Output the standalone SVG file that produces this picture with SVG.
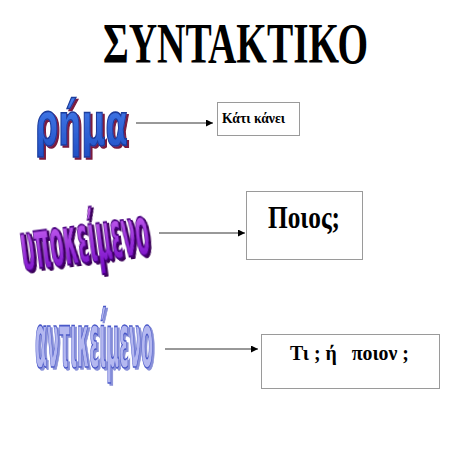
<svg xmlns="http://www.w3.org/2000/svg" width="452" height="452" viewBox="0 0 452 452">
<style>
.box{fill:#fff;stroke:#9a9a9a;stroke-width:1}
.lbl{font-family:"Liberation Serif","Times New Roman",serif;font-weight:bold;fill:#000}
.art{font-family:"DejaVu Sans Condensed","DejaVu Sans","Liberation Sans",sans-serif;font-weight:bold}
.conn{stroke:#333;stroke-width:1;fill:none;marker-end:url(#ah)}
</style>
<defs>
<marker id="ah" viewBox="0 0 8 8" refX="8" refY="4" markerWidth="7" markerHeight="7" markerUnits="userSpaceOnUse" orient="auto">
<path d="M0,0 L8,4 L0,8 z" fill="#000"/>
</marker>
<linearGradient id="gBlue" x1="0" y1="0" x2="0" y2="1">
<stop offset="0" stop-color="#4a82f0"/>
<stop offset="1" stop-color="#1f4ec4"/>
</linearGradient>
<linearGradient id="gPurple" x1="0" y1="0" x2="0" y2="1">
<stop offset="0" stop-color="#e07cff"/>
<stop offset="1" stop-color="#6a00c0"/>
</linearGradient>
<filter id="shRed" x="-10%" y="-10%" width="130%" height="130%">
<feDropShadow dx="2" dy="2" stdDeviation="0.3" flood-color="#7a1f3d" flood-opacity="1"/>
</filter>
<filter id="shPurple" x="-10%" y="-10%" width="130%" height="130%">
<feDropShadow dx="2" dy="2" stdDeviation="0.3" flood-color="#3a0058" flood-opacity="1"/>
</filter>
<filter id="shLav" x="-10%" y="-10%" width="130%" height="130%">
<feDropShadow dx="2" dy="2" stdDeviation="0.3" flood-color="#8890d8" flood-opacity="1"/>
</filter>
</defs>
<rect width="452" height="452" fill="#fff"/>
<g id="title">
<text class="lbl" transform="translate(103 63) scale(0.68 1)" font-size="57" textLength="389.7" lengthAdjust="spacingAndGlyphs">ΣΥΝΤΑΚΤΙΚΟ</text>
</g>
<g id="node-rima" filter="url(#shRed)">
<text class="art" transform="translate(35 145) scale(0.67 1)" font-size="58" textLength="138.8" lengthAdjust="spacingAndGlyphs" fill="url(#gBlue)" stroke="#1c3c9c" stroke-width="1.4" vector-effect="non-scaling-stroke">ρήμα</text>
</g>
<g id="node-ypokeimeno" transform="rotate(-7.5 88 262)" filter="url(#shPurple)">
<text class="art" transform="translate(23 262) scale(0.333 1)" font-size="68" textLength="387.4" lengthAdjust="spacingAndGlyphs" fill="url(#gPurple)" stroke="#4a0080" stroke-width="1.4" vector-effect="non-scaling-stroke">υποκείμενο</text>
</g>
<g id="node-antikeimeno" filter="url(#shLav)">
<text class="art" transform="translate(35 367) scale(0.265 1)" font-size="74" textLength="445.3" lengthAdjust="spacingAndGlyphs" fill="#b4b8f0" stroke="#4a58c8" stroke-width="1.2" vector-effect="non-scaling-stroke">αντικείμενο</text>
</g>
<g id="box-kati">
<rect class="box" x="217.5" y="102.5" width="82" height="33"/>
<text class="lbl" transform="translate(222 123) scale(0.94 1)" font-size="15" textLength="67" lengthAdjust="spacingAndGlyphs">Κάτι κάνει</text>
</g>
<g id="box-poios">
<rect class="box" x="246.5" y="191.5" width="116" height="68"/>
<text class="lbl" transform="translate(268 228) scale(0.8 1)" font-size="32" textLength="90" lengthAdjust="spacingAndGlyphs">Ποιος;</text>
</g>
<g id="box-ti">
<rect class="box" x="261.5" y="334.5" width="178" height="54"/>
<text class="lbl" transform="translate(290 360) scale(0.92 1)" font-size="21" textLength="129.3" lengthAdjust="spacingAndGlyphs" xml:space="preserve">Τι ; ή   ποιον ;</text>
</g>
<g id="connectors">
<line class="conn" x1="136" y1="123" x2="213" y2="123"/>
<line class="conn" x1="159" y1="233" x2="245" y2="233"/>
<line class="conn" x1="165" y1="349" x2="258" y2="349"/>
</g>
</svg>
